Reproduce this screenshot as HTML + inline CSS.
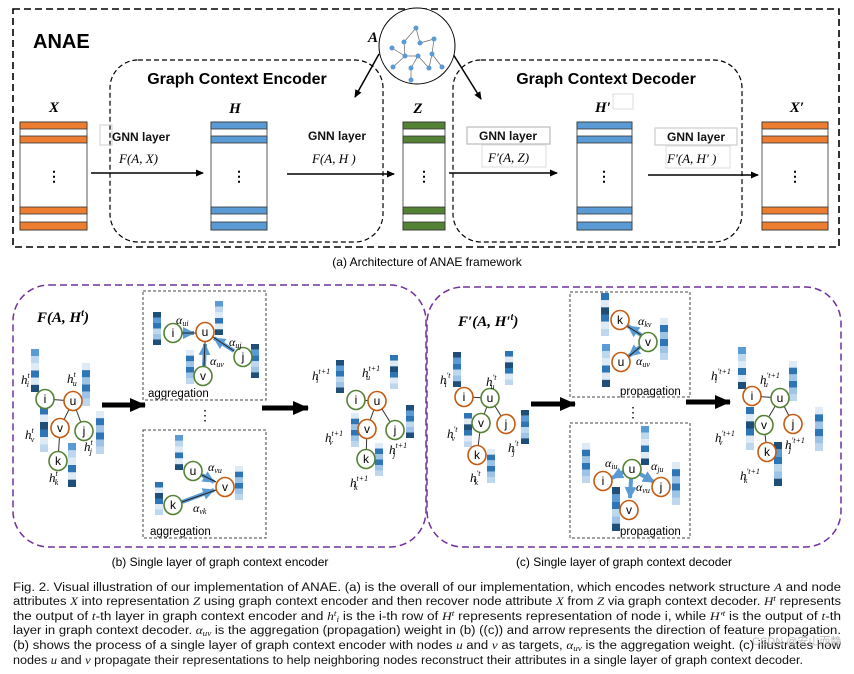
<!DOCTYPE html>
<html><head><meta charset="utf-8"><style>
html,body{margin:0;padding:0;background:#fff;}
svg{display:block;}
.s{font-family:"Liberation Sans",sans-serif;}
.m{font-family:"Liberation Serif",serif;font-style:italic;}
</style></head><body>
<svg width="854" height="674" viewBox="0 0 854 674" xmlns="http://www.w3.org/2000/svg">
<defs>
<marker id="ah" markerWidth="8" markerHeight="8" refX="7" refY="4" orient="auto" markerUnits="userSpaceOnUse"><path d="M0,0.5 L8,4 L0,7.5 z" fill="#000"/></marker>
<marker id="bh" markerWidth="16" markerHeight="14" refX="15" refY="7" orient="auto" markerUnits="userSpaceOnUse"><path d="M0,0 L16,7 L0,14 z" fill="#000"/></marker>
<marker id="blh" markerWidth="12" markerHeight="12" refX="11" refY="6" orient="auto" markerUnits="userSpaceOnUse"><path d="M0,0 L12,6 L0,12 z" fill="#5b9bd5"/></marker>
<symbol id="s1" viewBox="0 0 8 42" preserveAspectRatio="none"><rect y="0" width="8" height="7" fill="#5b9bd5"/><rect y="7" width="8" height="7" fill="#bdd7ee"/><rect y="14" width="8" height="7" fill="#deebf7"/><rect y="21" width="8" height="7" fill="#2e75b6"/><rect y="28" width="8" height="7" fill="#deebf7"/><rect y="35" width="8" height="7" fill="#1f4e79"/></symbol>
<symbol id="s2" viewBox="0 0 8 42" preserveAspectRatio="none"><rect y="0" width="8" height="7" fill="#deebf7"/><rect y="7" width="8" height="7" fill="#2e75b6"/><rect y="14" width="8" height="7" fill="#9dc3e6"/><rect y="21" width="8" height="7" fill="#2e75b6"/><rect y="28" width="8" height="7" fill="#9dc3e6"/><rect y="35" width="8" height="7" fill="#bdd7ee"/></symbol>
<symbol id="s3" viewBox="0 0 8 42" preserveAspectRatio="none"><rect y="0" width="8" height="7" fill="#2e75b6"/><rect y="7" width="8" height="7" fill="#deebf7"/><rect y="14" width="8" height="7" fill="#1f4e79"/><rect y="21" width="8" height="7" fill="#2e75b6"/><rect y="28" width="8" height="7" fill="#deebf7"/><rect y="35" width="8" height="7" fill="#bdd7ee"/></symbol>
<symbol id="s4" viewBox="0 0 8 42" preserveAspectRatio="none"><rect y="0" width="8" height="7" fill="#1f4e79"/><rect y="7" width="8" height="7" fill="#5b9bd5"/><rect y="14" width="8" height="7" fill="#2e75b6"/><rect y="21" width="8" height="7" fill="#bdd7ee"/><rect y="28" width="8" height="7" fill="#9dc3e6"/><rect y="35" width="8" height="7" fill="#1f4e79"/></symbol>
</defs>

<!-- (a) -->
<rect x="13" y="9" width="826" height="238" fill="none" stroke="#000" stroke-width="1.6" stroke-dasharray="7,4"/>
<text x="33" y="48" class="s" font-size="20" font-weight="bold">ANAE</text>
<rect x="110" y="60" width="273" height="182" rx="28" fill="none" stroke="#000" stroke-width="1.2" stroke-dasharray="5,3"/>
<rect x="453" y="60" width="289" height="182" rx="28" fill="none" stroke="#000" stroke-width="1.2" stroke-dasharray="5,3"/>
<text x="237" y="84" class="s" font-size="16" font-weight="bold" text-anchor="middle">Graph Context Encoder</text>
<text x="606" y="84" class="s" font-size="16" font-weight="bold" text-anchor="middle">Graph Context Decoder</text>

<g stroke="#333" stroke-width="0.8">
<rect x="20" y="122" width="67" height="108" fill="#fff"/>
<rect x="20" y="122" width="67" height="7" fill="#ed7d31"/><rect x="20" y="136" width="67" height="7" fill="#ed7d31"/><rect x="20" y="207" width="67" height="7" fill="#ed7d31"/><rect x="20" y="222" width="67" height="8" fill="#ed7d31"/>
<rect x="211" y="122" width="56" height="108" fill="#fff"/>
<rect x="211" y="122" width="56" height="7" fill="#5b9bd5"/><rect x="211" y="136" width="56" height="7" fill="#5b9bd5"/><rect x="211" y="207" width="56" height="7" fill="#5b9bd5"/><rect x="211" y="222" width="56" height="8" fill="#5b9bd5"/>
<rect x="403" y="122" width="42" height="108" fill="#fff"/>
<rect x="403" y="122" width="42" height="7" fill="#548235"/><rect x="403" y="136" width="42" height="7" fill="#548235"/><rect x="403" y="207" width="42" height="7" fill="#548235"/><rect x="403" y="222" width="42" height="8" fill="#548235"/>
<rect x="577" y="122" width="55" height="108" fill="#fff"/>
<rect x="577" y="122" width="55" height="7" fill="#5b9bd5"/><rect x="577" y="136" width="55" height="7" fill="#5b9bd5"/><rect x="577" y="207" width="55" height="7" fill="#5b9bd5"/><rect x="577" y="222" width="55" height="8" fill="#5b9bd5"/>
<rect x="762" y="122" width="66" height="108" fill="#fff"/>
<rect x="762" y="122" width="66" height="7" fill="#ed7d31"/><rect x="762" y="136" width="66" height="7" fill="#ed7d31"/><rect x="762" y="207" width="66" height="7" fill="#ed7d31"/><rect x="762" y="222" width="66" height="8" fill="#ed7d31"/>
</g>
<g class="s" font-size="14" font-weight="bold" text-anchor="middle"><text x="54" y="181">⋮</text><text x="239" y="181">⋮</text><text x="424" y="181">⋮</text><text x="604" y="181">⋮</text><text x="795" y="181">⋮</text></g>
<g class="m" font-size="15" font-weight="bold" text-anchor="middle"><text x="54" y="112">X</text><text x="235" y="113">H</text><text x="418" y="113">Z</text><text x="603" y="112">H′</text><text x="797" y="112">X′</text></g>
<rect x="613" y="94" width="20" height="15" fill="#fff" stroke="#ddd"/>

<g stroke="#000" stroke-width="1.5" fill="none" marker-end="url(#ah)">
<line x1="91" y1="173" x2="203" y2="173"/><line x1="287" y1="174" x2="394" y2="174"/>
<line x1="449" y1="173" x2="557" y2="173"/><line x1="648" y1="175" x2="758" y2="175"/>
<line x1="379" y1="54" x2="355" y2="97"/><line x1="453" y1="54" x2="481" y2="99"/>
</g>
<rect x="100" y="125" width="12" height="20" fill="none" stroke="#ccc"/>
<rect x="467" y="127" width="83" height="17" fill="#fff" stroke="#bbb" stroke-width="1.2"/>
<rect x="482" y="145" width="64" height="22" fill="none" stroke="#ddd"/>
<rect x="655" y="128" width="82" height="17" fill="#fff" stroke="#ccc" stroke-width="1.2"/>
<rect x="666" y="146" width="64" height="22" fill="none" stroke="#ddd"/>
<g class="s" font-size="12" font-weight="bold" fill="#111">
<text x="112" y="141">GNN layer</text><text x="308" y="140">GNN layer</text>
<text x="508" y="140" text-anchor="middle">GNN layer</text><text x="696" y="141" text-anchor="middle">GNN layer</text>
</g>
<g class="m" font-size="13"><text x="119" y="163">F(A, X)</text><text x="312" y="163">F(A, H  )</text><text x="488" y="162">F′(A, Z)</text><text x="667" y="163">F′(A, H′ )</text></g>

<circle cx="417" cy="46" r="38" fill="#fff" stroke="#000" stroke-width="1"/>
<text x="368" y="42" class="m" font-size="15" font-weight="bold">A</text>
<path fill="none" stroke="#666" stroke-width="0.7" d="M416,28 L404,42 L405,56 L392,48 M405,56 L393,67 M405,56 L418,56 L411,68 L411,80 M418,56 L429,68 M420,43 L434,39 M434,39 L432,54 L442,67 M432,54 L429,68 M416,28 L420,43"/>
<g fill="#5b9bd5"><circle cx="416" cy="28" r="2.5"/><circle cx="404" cy="42" r="2.5"/><circle cx="420" cy="43" r="2.5"/><circle cx="434" cy="39" r="2.5"/><circle cx="392" cy="48" r="2.5"/><circle cx="405" cy="56" r="2.5"/><circle cx="418" cy="56" r="2.5"/><circle cx="432" cy="54" r="2.5"/><circle cx="393" cy="67" r="2.5"/><circle cx="411" cy="68" r="2.5"/><circle cx="429" cy="68" r="2.5"/><circle cx="442" cy="67" r="2.5"/><circle cx="411" cy="80" r="2.5"/></g>
<text x="427" y="266" class="s" font-size="12" text-anchor="middle">(a) Architecture of ANAE framework</text>

<!-- (b) -->
<rect x="13" y="285" width="413" height="262" rx="36" fill="none" stroke="#7030a0" stroke-width="1.5" stroke-dasharray="7,4"/>
<rect x="427" y="287" width="414" height="260" rx="36" fill="none" stroke="#7030a0" stroke-width="1.5" stroke-dasharray="7,4"/>
<text x="37" y="322" class="m" font-size="15" font-weight="bold">F(A, H<tspan dy="-6" font-size="10">t</tspan><tspan dy="6">)</tspan></text>
<text x="458" y="326" class="m" font-size="15" font-weight="bold">F′(A, H′<tspan dy="-6" font-size="10">t</tspan><tspan dy="6">)</tspan></text>

<rect x="143" y="291" width="123" height="109" fill="none" stroke="#444" stroke-dasharray="3,2"/>
<rect x="143" y="430" width="123" height="108" fill="none" stroke="#444" stroke-dasharray="3,2"/>
<rect x="570" y="292" width="120" height="105" fill="none" stroke="#444" stroke-dasharray="3,2"/>
<rect x="570" y="423" width="120" height="115" fill="none" stroke="#444" stroke-dasharray="3,2"/>
<g class="s" font-size="14" text-anchor="middle"><text x="205" y="420">⋮</text><text x="633" y="417">⋮</text></g>

<g stroke="#000" stroke-width="5" marker-end="url(#bh)">
<line x1="102" y1="405" x2="145" y2="405"/><line x1="262" y1="408" x2="308" y2="408"/>
<line x1="531" y1="404" x2="575" y2="404"/><line x1="686" y1="402" x2="730" y2="402"/>
</g>

<!-- strips -->
<g>
<use href="#s1" x="31" y="349" width="8" height="43"/><use href="#s2" x="82" y="363" width="8" height="43"/><use href="#s3" x="40" y="407" width="8" height="45"/><use href="#s2" x="96" y="411" width="8" height="43"/><use href="#s1" x="68" y="443" width="8" height="44"/>
<use href="#s4" x="153" y="312" width="8" height="33"/><use href="#s1" x="215" y="301" width="8" height="34"/><use href="#s2" x="186" y="350" width="8" height="34"/><use href="#s4" x="251" y="344" width="8" height="34"/>
<use href="#s1" x="175" y="435" width="8" height="35"/><use href="#s2" x="235" y="466" width="8" height="34"/><use href="#s3" x="155" y="482" width="8" height="33"/>
<use href="#s4" x="336" y="360" width="8" height="33"/><use href="#s3" x="390" y="355" width="8" height="34"/><use href="#s2" x="351" y="413" width="8" height="34"/><use href="#s4" x="406" y="405" width="8" height="33"/><use href="#s2" x="375" y="443" width="8" height="33"/>
<use href="#s4" x="453" y="352" width="8" height="35"/><use href="#s3" x="505" y="351" width="8" height="34"/><use href="#s3" x="464" y="413" width="8" height="34"/><use href="#s4" x="521" y="410" width="8" height="34"/><use href="#s2" x="487" y="449" width="8" height="34"/>
<use href="#s3" x="601" y="293" width="8" height="43"/><use href="#s1" x="602" y="344" width="8" height="43"/><use href="#s2" x="660" y="318" width="8" height="42"/>
<use href="#s2" x="582" y="443" width="8" height="40"/><use href="#s1" x="641" y="426" width="8" height="39"/><use href="#s4" x="612" y="487" width="8" height="44"/><use href="#s2" x="672" y="462" width="8" height="43"/>
<use href="#s1" x="738" y="347" width="8" height="42"/><use href="#s2" x="789" y="361" width="8" height="40"/><use href="#s3" x="746" y="407" width="8" height="43"/><use href="#s2" x="815" y="407" width="8" height="44"/><use href="#s4" x="774" y="442" width="8" height="44"/>
</g>

<!-- edges -->
<path fill="none" stroke="#333" stroke-width="1" d="M45,399 L73,401 L60,428 L58,461 M73,401 L84,431 M356,400 L377,401 L367,429 L366,459 M377,401 L395,430 M464,397 L490,398 L481,423 L477,455 M490,398 L506,424 M752,396 L780,398 L764,425 L767,452 M780,398 L793,424"/>
<!-- blue weighted arrows -->
<g stroke="#5b9bd5" stroke-width="4" marker-end="url(#blh)" fill="none">
<line x1="182" y1="333" x2="194" y2="333"/><line x1="234" y1="351" x2="214" y2="338"/><line x1="204" y1="366" x2="205" y2="344"/>
<line x1="202" y1="475" x2="214" y2="482"/><line x1="182" y1="502" x2="214" y2="490"/>
<line x1="641" y1="335" x2="628" y2="326"/><line x1="640" y1="347" x2="629" y2="356"/>
<line x1="623" y1="472" x2="612" y2="478"/><line x1="640" y1="474" x2="654" y2="482"/><line x1="631" y1="479" x2="630" y2="498"/>
</g>
<g stroke="#222" stroke-width="1">
<line x1="182" y1="333" x2="196" y2="333"/><line x1="234" y1="351" x2="213" y2="337"/><line x1="204" y1="366" x2="205" y2="342"/>
<line x1="202" y1="475" x2="216" y2="482"/><line x1="182" y1="502" x2="216" y2="490"/>
<line x1="641" y1="335" x2="627" y2="326"/><line x1="640" y1="347" x2="628" y2="357"/>
</g>

<!-- nodes -->
<g stroke-width="1.6" fill="#fff">
<g stroke="#548235"><ellipse cx="45" cy="399" rx="9" ry="9.5"/><ellipse cx="84" cy="431" rx="9" ry="9.5"/><ellipse cx="58" cy="461" rx="9" ry="9.5"/>
<ellipse cx="173" cy="333" rx="9" ry="9.5"/><ellipse cx="243" cy="357" rx="9" ry="9.5"/><ellipse cx="203" cy="376" rx="9" ry="9.5"/>
<ellipse cx="193" cy="471" rx="9" ry="9.5"/><ellipse cx="173" cy="505" rx="9" ry="9.5"/>
<ellipse cx="356" cy="400" rx="9" ry="9.5"/><ellipse cx="395" cy="430" rx="9" ry="9.5"/><ellipse cx="366" cy="459" rx="9" ry="9.5"/>
<ellipse cx="490" cy="398" rx="9" ry="9.5"/><ellipse cx="481" cy="423" rx="9" ry="9.5"/><ellipse cx="648" cy="342" rx="9" ry="9.5"/><ellipse cx="632" cy="469" rx="9" ry="9.5"/>
<ellipse cx="780" cy="398" rx="9" ry="9.5"/><ellipse cx="764" cy="425" rx="9" ry="9.5"/></g>
<g stroke="#c55a11"><ellipse cx="73" cy="401" rx="9" ry="9.5"/><ellipse cx="60" cy="428" rx="9" ry="9.5"/><ellipse cx="205" cy="332" rx="9" ry="9.5"/><ellipse cx="225" cy="487" rx="9" ry="9.5"/>
<ellipse cx="377" cy="401" rx="9" ry="9.5"/><ellipse cx="367" cy="429" rx="9" ry="9.5"/>
<ellipse cx="464" cy="397" rx="9" ry="9.5"/><ellipse cx="506" cy="424" rx="9" ry="9.5"/><ellipse cx="477" cy="455" rx="9" ry="9.5"/>
<ellipse cx="620" cy="320" rx="9" ry="9.5"/><ellipse cx="621" cy="362" rx="9" ry="9.5"/><ellipse cx="603" cy="481" rx="9" ry="9.5"/><ellipse cx="661" cy="487" rx="9" ry="9.5"/><ellipse cx="629" cy="510" rx="9" ry="9.5"/>
<ellipse cx="752" cy="396" rx="9" ry="9.5"/><ellipse cx="793" cy="424" rx="9" ry="9.5"/><ellipse cx="767" cy="452" rx="9" ry="9.5"/></g>
</g>
<g class="s" font-size="12" text-anchor="middle">
<text x="45" y="403">i</text><text x="73" y="405">u</text><text x="60" y="432">v</text><text x="84" y="435">j</text><text x="58" y="465">k</text>
<text x="173" y="337">i</text><text x="205" y="336">u</text><text x="243" y="361">j</text><text x="203" y="380">v</text>
<text x="193" y="475">u</text><text x="225" y="491">v</text><text x="173" y="509">k</text>
<text x="356" y="404">i</text><text x="377" y="405">u</text><text x="367" y="433">v</text><text x="395" y="434">j</text><text x="366" y="463">k</text>
<text x="464" y="401">i</text><text x="490" y="402">u</text><text x="481" y="427">v</text><text x="506" y="428">j</text><text x="477" y="459">k</text>
<text x="620" y="324">k</text><text x="648" y="346">v</text><text x="621" y="366">u</text>
<text x="632" y="473">u</text><text x="603" y="485">i</text><text x="661" y="491">j</text><text x="629" y="514">v</text>
<text x="752" y="400">i</text><text x="780" y="402">u</text><text x="764" y="429">v</text><text x="793" y="428">j</text><text x="767" y="456">k</text>
</g>
<g class="s" font-size="11.5"><text x="148" y="397">aggregation</text><text x="150" y="535">aggregation</text><text x="620" y="395">propagation</text><text x="620" y="535">propagation</text></g>

<!-- alpha labels -->
<g class="m" font-size="12">
<text x="176" y="324">α<tspan font-size="8" dy="2">ui</tspan></text><text x="229" y="346">α<tspan font-size="8" dy="2">uj</tspan></text><text x="210" y="365">α<tspan font-size="8" dy="2">uv</tspan></text>
<text x="208" y="471">α<tspan font-size="8" dy="2">vu</tspan></text><text x="193" y="512">α<tspan font-size="8" dy="2">vk</tspan></text>
<text x="638" y="325">α<tspan font-size="8" dy="2">kv</tspan></text><text x="636" y="365">α<tspan font-size="8" dy="2">uv</tspan></text>
<text x="605" y="467">α<tspan font-size="8" dy="2">iu</tspan></text><text x="651" y="470">α<tspan font-size="8" dy="2">ju</tspan></text><text x="636" y="491">α<tspan font-size="8" dy="2">vu</tspan></text>
</g>
<!-- h labels -->
<g class="m" font-size="13">
<text x="21" y="384">h<tspan font-size="8" dy="-6">t</tspan><tspan font-size="8" dx="-3" dy="9">i</tspan></text>
<text x="67" y="383">h<tspan font-size="8" dy="-6">t</tspan><tspan font-size="8" dx="-3" dy="9">u</tspan></text>
<text x="25" y="439">h<tspan font-size="8" dy="-6">t</tspan><tspan font-size="8" dx="-3" dy="9">v</tspan></text>
<text x="84" y="451">h<tspan font-size="8" dy="-6">t</tspan><tspan font-size="8" dx="-3" dy="9">j</tspan></text>
<text x="49" y="482">h<tspan font-size="8" dy="-6">t</tspan><tspan font-size="8" dx="-3" dy="9">k</tspan></text>
<text x="312" y="380">h<tspan font-size="8" dy="-6">t+1</tspan><tspan font-size="8" dx="-14" dy="9">i</tspan></text>
<text x="362" y="377">h<tspan font-size="8" dy="-6">t+1</tspan><tspan font-size="8" dx="-14" dy="9">u</tspan></text>
<text x="325" y="442">h<tspan font-size="8" dy="-6">t+1</tspan><tspan font-size="8" dx="-14" dy="9">v</tspan></text>
<text x="389" y="454">h<tspan font-size="8" dy="-6">t+1</tspan><tspan font-size="8" dx="-14" dy="9">j</tspan></text>
<text x="350" y="487">h<tspan font-size="8" dy="-6">t+1</tspan><tspan font-size="8" dx="-14" dy="9">k</tspan></text>
<text x="440" y="384">h<tspan font-size="8" dy="-6">′t</tspan><tspan font-size="8" dx="-6" dy="9">i</tspan></text>
<text x="486" y="386">h<tspan font-size="8" dy="-6">′t</tspan><tspan font-size="8" dx="-6" dy="9">u</tspan></text>
<text x="447" y="438">h<tspan font-size="8" dy="-6">′t</tspan><tspan font-size="8" dx="-6" dy="9">v</tspan></text>
<text x="508" y="452">h<tspan font-size="8" dy="-6">′t</tspan><tspan font-size="8" dx="-6" dy="9">j</tspan></text>
<text x="470" y="482">h<tspan font-size="8" dy="-6">′t</tspan><tspan font-size="8" dx="-6" dy="9">k</tspan></text>
<text x="711" y="380">h<tspan font-size="8" dy="-6">′t+1</tspan><tspan font-size="8" dx="-16" dy="9">i</tspan></text>
<text x="760" y="384">h<tspan font-size="8" dy="-6">′t+1</tspan><tspan font-size="8" dx="-16" dy="9">u</tspan></text>
<text x="715" y="442">h<tspan font-size="8" dy="-6">′t+1</tspan><tspan font-size="8" dx="-16" dy="9">v</tspan></text>
<text x="785" y="449">h<tspan font-size="8" dy="-6">′t+1</tspan><tspan font-size="8" dx="-16" dy="9">j</tspan></text>
<text x="740" y="480">h<tspan font-size="8" dy="-6">′t+1</tspan><tspan font-size="8" dx="-16" dy="9">k</tspan></text>
</g>
<text x="220" y="566" class="s" font-size="12" text-anchor="middle">(b) Single layer of graph context encoder</text>
<text x="624" y="566" class="s" font-size="12" text-anchor="middle">(c) Single layer of graph context decoder</text>

<!-- caption -->
<g class="s" font-size="11.5" fill="#111">
<text x="13" y="591" textLength="828" lengthAdjust="spacingAndGlyphs">Fig. 2. Visual illustration of our implementation of ANAE. (a) is the overall of our implementation, which encodes network structure <tspan class="m">A</tspan> and node</text>
<text x="13" y="605" textLength="828" lengthAdjust="spacingAndGlyphs">attributes <tspan class="m">X</tspan> into representation <tspan class="m">Z</tspan> using graph context encoder and then recover node attribute <tspan class="m">X</tspan> from <tspan class="m">Z</tspan> via graph context decoder. <tspan class="m">H<tspan font-size="8" dy="-4">t</tspan></tspan><tspan dy="4"> represents</tspan></text>
<text x="13" y="620" textLength="828" lengthAdjust="spacingAndGlyphs">the output of <tspan class="m">t</tspan>-th layer in graph context encoder and <tspan class="m">h<tspan font-size="8" dy="-4">t</tspan><tspan font-size="8" dy="6">i</tspan></tspan><tspan dy="-2"> is the i-th row of </tspan><tspan class="m">H<tspan font-size="8" dy="-4">t</tspan></tspan><tspan dy="4"> represents representation of node i, while </tspan><tspan class="m">H′<tspan font-size="8" dy="-4">t</tspan></tspan><tspan dy="4"> is the output of </tspan><tspan class="m">t</tspan>-th</text>
<text x="13" y="634" textLength="828" lengthAdjust="spacingAndGlyphs">layer in graph context decoder. <tspan class="m">α<tspan font-size="8" dy="2">uv</tspan></tspan><tspan dy="-2"> is the aggregation (propagation) weight in (b) ((c)) and arrow represents the direction of feature propagation.</tspan></text>
<text x="13" y="649" textLength="828" lengthAdjust="spacingAndGlyphs">(b) shows the process of a single layer of graph context encoder with nodes <tspan class="m">u</tspan> and <tspan class="m">v</tspan> as targets, <tspan class="m">α<tspan font-size="8" dy="2">uv</tspan></tspan><tspan dy="-2"> is the aggregation weight. (c) illustrates how</tspan></text>
<text x="13" y="664" textLength="790" lengthAdjust="spacingAndGlyphs">nodes <tspan class="m">u</tspan> and <tspan class="m">v</tspan> propagate their representations to help neighboring nodes reconstruct their attributes in a single layer of graph context decoder.</text>
</g>
<text x="752" y="645" class="s" font-size="11" fill="#bbb">CSDN @安山而静</text>
</svg>
</body></html>
